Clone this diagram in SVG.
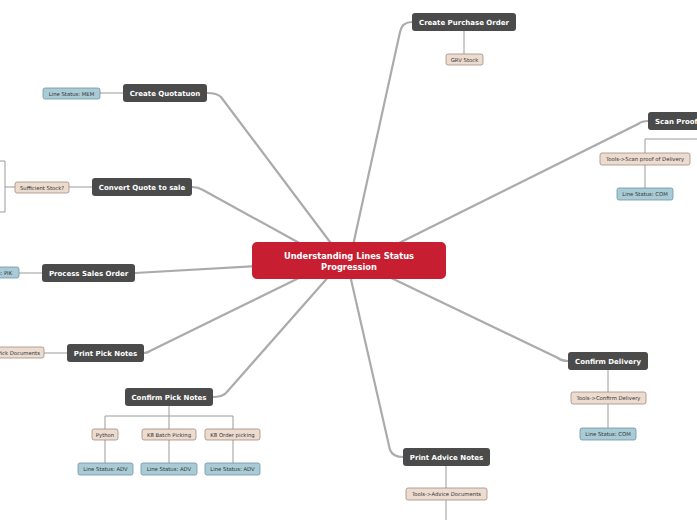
<svg xmlns="http://www.w3.org/2000/svg" width="697" height="520" viewBox="0 0 697 520">
<style>
.main rect{fill:#4b4b4b;}
.main text{fill:#fff;font-family:"DejaVu Sans",Verdana,sans-serif;font-weight:bold;font-size:7px;text-anchor:middle;}
.tool rect{fill:#ecdcd0;stroke:#a58b7d;stroke-width:0.8;}
.stat rect{fill:#a9cbd6;stroke:#6d95a4;stroke-width:0.8;}
.sub text{fill:#333;font-family:"DejaVu Sans",Verdana,sans-serif;font-size:5.3px;text-anchor:middle;}
.big{fill:none;stroke:#ababab;stroke-width:2.2;stroke-linecap:round;}
.thin{fill:none;stroke:#9a9a9a;stroke-width:1;}
</style>
<rect width="697" height="520" fill="#fff"/>
<g id="connectors">
<path class="big" d="M352,250 L400,32 Q402,22 412,22"/>
<path class="big" d="M336,250 L221,97 Q217,93 207,93"/>
<path class="big" d="M312,250 L203,190 Q198,187 192,187"/>
<path class="big" d="M260,266 L135,273"/>
<path class="big" d="M305,275 L150,351 Q147,353 144,353"/>
<path class="big" d="M330,275 L226,393 Q222,397 213,397"/>
<path class="big" d="M385,250 L638,124 Q642,121 648,121"/>
<path class="big" d="M385,275 L558,358 Q562,361 568,361"/>
<path class="big" d="M350,275 L390,450 Q393,457 403,457"/>
<path class="thin" d="M464,31 V54"/>
<path class="thin" d="M123,93 H100"/>
<path class="thin" d="M92,187 H69"/>
<path class="thin" d="M15,187 H5 M0,161 H5 V212 H0"/>
<path class="thin" d="M42,273 H19"/>
<path class="thin" d="M67,353 H44"/>
<path class="thin" d="M169,406 V416 M105,429 V416 H233 V429 M169,416 V429 M105,440 V463 M169,440 V463 M233,440 V463"/>
<path class="thin" d="M697,139 H645 V153 M645,165 V188"/>
<path class="thin" d="M608,370 V392 M608,404 V428"/>
<path class="thin" d="M446,466 V488 M446,500 V520"/>
</g>
<g id="center">
<rect x="252" y="242" width="194" height="37" rx="5" fill="#c71f31"/>
<text x="349" y="259" fill="#fff" font-family="'DejaVu Sans',Verdana,sans-serif" font-weight="bold" font-size="8.3" text-anchor="middle">Understanding Lines Status</text>
<text x="349" y="270" fill="#fff" font-family="'DejaVu Sans',Verdana,sans-serif" font-weight="bold" font-size="8.3" text-anchor="middle">Progression</text>
</g>
<g id="n-create-po" class="main"><rect x="412" y="13" width="104" height="18" rx="3"/><text x="464" y="24.5">Create Purchase Order</text></g>
<g id="n-grv" class="sub tool"><rect x="446" y="54" width="37" height="11" rx="2"/><text x="464.5" y="61.5">GRV Stock</text></g>
<g id="n-quot" class="main"><rect x="123" y="84" width="84" height="18" rx="3"/><text x="165" y="95.5">Create Quotatuon</text></g>
<g id="n-mem" class="sub stat"><rect x="43" y="88" width="57" height="11" rx="2"/><text x="71.5" y="95.5">Line Status: MEM</text></g>
<g id="n-convert" class="main"><rect x="92" y="178" width="100" height="18" rx="3"/><text x="142" y="189.5">Convert Quote to sale</text></g>
<g id="n-suff" class="sub tool"><rect x="15" y="182" width="54" height="11" rx="2"/><text x="42" y="189.5">Sufficient Stock?</text></g>
<g id="n-process" class="main"><rect x="42" y="264" width="93" height="18" rx="3"/><text x="88.5" y="275.5">Process Sales Order</text></g>
<g id="n-pik" class="sub stat"><rect x="-36" y="267" width="55" height="11" rx="2"/><text x="-8.5" y="274.5">Line Status: PIK</text></g>
<g id="n-printpick" class="main"><rect x="67" y="344" width="77" height="18" rx="3"/><text x="105.5" y="355.5">Print Pick Notes</text></g>
<g id="n-pickdoc" class="sub tool"><rect x="-26" y="347" width="70" height="11" rx="2"/><text x="9" y="354.5">Tools-&gt;Pick Documents</text></g>
<g id="n-confpick" class="main"><rect x="125" y="388" width="88" height="18" rx="3"/><text x="169" y="399.5">Confirm Pick Notes</text></g>
<g id="n-python" class="sub tool"><rect x="92" y="429" width="26" height="11" rx="2"/><text x="105" y="436.5">Python</text></g>
<g id="n-k8batch" class="sub tool"><rect x="142" y="429" width="54" height="11" rx="2"/><text x="169" y="436.5">K8 Batch Picking</text></g>
<g id="n-k8order" class="sub tool"><rect x="205" y="429" width="55" height="11" rx="2"/><text x="232.5" y="436.5">K8 Order picking</text></g>
<g id="n-adv1" class="sub stat"><rect x="78" y="463" width="55" height="12" rx="2"/><text x="105.5" y="471">Line Status: ADV</text></g>
<g id="n-adv2" class="sub stat"><rect x="141" y="463" width="56" height="12" rx="2"/><text x="169" y="471">Line Status: ADV</text></g>
<g id="n-adv3" class="sub stat"><rect x="205" y="463" width="55" height="12" rx="2"/><text x="232.5" y="471">Line Status: ADV</text></g>
<g id="n-scan" class="main"><rect x="648" y="112" width="70" height="18" rx="3"/><text x="655" y="123.5" style="text-anchor:start">Scan Proof</text></g>
<g id="n-scantool" class="sub tool"><rect x="600" y="153" width="90" height="12" rx="2"/><text x="645" y="161">Tools-&gt;Scan proof of Delivery</text></g>
<g id="n-com1" class="sub stat"><rect x="617" y="188" width="56" height="12" rx="2"/><text x="645" y="196">Line Status: COM</text></g>
<g id="n-confdel" class="main"><rect x="568" y="352" width="80" height="18" rx="3"/><text x="608" y="363.5">Confirm Delivery</text></g>
<g id="n-confdeltool" class="sub tool"><rect x="571" y="392" width="75" height="12" rx="2"/><text x="608.5" y="400">Tools-&gt;Confirm Delivery</text></g>
<g id="n-com2" class="sub stat"><rect x="580" y="428" width="56" height="12" rx="2"/><text x="608" y="436">Line Status: COM</text></g>
<g id="n-printadv" class="main"><rect x="403" y="448" width="87" height="18" rx="3"/><text x="446.5" y="459.5">Print Advice Notes</text></g>
<g id="n-advdoc" class="sub tool"><rect x="406" y="488" width="81" height="12" rx="2"/><text x="446.5" y="496">Tools-&gt;Advice Documents</text></g>
</svg>
